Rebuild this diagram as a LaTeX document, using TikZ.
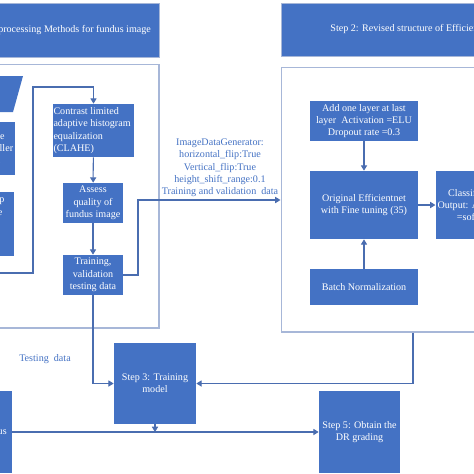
\documentclass[tikz,border=0pt]{standalone}
\usepackage{fontspec}
\setmainfont{Liberation Serif}
\usetikzlibrary{arrows.meta}
\definecolor{blueF}{HTML}{4472C4}
\definecolor{outlineC}{HTML}{A7B7D8}
\definecolor{lineC}{HTML}{4A6DB0}

\begin{document}
\begin{tikzpicture}[x=0.02cm,y=-0.02cm,
  font=\fontsize{5.75}{7}\selectfont,
  box/.style={fill=blueF,text=white,align=center,inner sep=1pt},
  frame/.style={draw=outlineC,line width=0.6pt},
  flow/.style={draw=lineC,line width=0.6pt,-{Triangle[length=3pt,width=3.5pt]}},
  plain/.style={draw=lineC,line width=0.6pt},
  lbl/.style={text=blueF,align=center,inner sep=0pt}]
\useasboundingbox (0,0) rectangle (474,474);
\clip (0,0) rectangle (474,474);
\fill[white] (0,0) rectangle (474,474);

% step 1 side
\node[box,draw=outlineC,minimum width=4.28cm,minimum height=1.08cm] (hdrL) at (52,30) {Step 1: Preprocessing Methods for fundus image};
\node[frame,minimum width=3.38cm,minimum height=5.28cm] (outL) at (74.5,196) {};
\fill[blueF] (-40,76) -- (23,76) -- (13,112) -- (-50,112) -- cycle;
\node[box,minimum width=1.5cm,minimum height=1.06cm] (boxA) at (-22.5,148.5) {Resize all the\\images to smaller\\dimensions};
\node[box,minimum width=1.48cm,minimum height=1.28cm] (boxB) at (-23,224) {Random crop\\of the image\\using\\center crop\\to size};
\node[box,text width=1.6cm,align=flush left,inner xsep=0.5pt,minimum height=1.06cm] (clahe) at (93.5,130.5) {Contrast limited\\adaptive histogram\\equalization\\(CLAHE)};
\node[box,minimum width=1.2cm,minimum height=0.8cm] (assess) at (93,203) {Assess\\quality of\\fundus image};
\node[box,minimum width=1.2cm,minimum height=0.8cm] (train) at (93,275) {Training,\\validation\\testing data};

\coordinate (src) at (-20,273);
\coordinate (bend) at (33,87);
\draw[flow] (src) -| (bend) -| (clahe.north);
\draw[flow] (clahe) -- (assess);
\draw[flow] (assess) -- (train);

% step 2 side
\node[box,draw=outlineC,minimum width=5.24cm,minimum height=1.06cm] (hdrR) at (412,29.5) {Step 2: Revised structure of Efficientnet};
\node[frame,minimum width=5.28cm,minimum height=5.3cm] (outR) at (413,199.5) {};
\node[box,minimum width=2.16cm,minimum height=0.8cm] (addl) at (364,121) {Add one layer at last\\layer~ Activation =ELU\\Dropout rate =0.3};
\node[box,minimum width=2.16cm,minimum height=1.36cm] (orig) at (364,205) {Original Efficientnet\\with Fine tuning (35)};
\node[box,minimum width=1.6cm,minimum height=1.36cm] (clf) at (476,205) {Classification\\Output: Activation\\=softmax};
\node[box,minimum width=2.16cm,minimum height=0.72cm] (bn) at (364,287) {Batch Normalization};
\draw[flow] (addl) -- (orig);
\draw[flow] (orig) -- (clf);
\draw[flow] (bn) -- (orig);

\coordinate (gen) at (138,200);
\node[lbl] (genlbl) at (220,168) {ImageDataGenerator:\\horizontal\_flip:True\\Vertical\_flip:True\\height\_shift\_range:0.1\\Training and validation~ data};
\draw[flow] (train.east) -| (gen) -- (gen -| outR.west);

% steps 3 to 5
\node[box,minimum width=1.64cm,minimum height=1.62cm] (step3) at (155,383.5) {Step 3: Training\\model};
\node[box,minimum width=1.44cm,minimum height=1.64cm] (boxC) at (-24,432) {Step 4: Fundus};
\node[box,minimum width=1.62cm,minimum height=1.64cm] (step5) at (359.5,432) {Step 5: Obtain the\\DR grading};
\node[lbl] (testlbl) at (45,359) {Testing~ data};

\draw[flow] (train.south) |- (step3.west);
\draw[flow] (outR.south) |- (step3.east);
\draw[flow] (step3.south) -- (step3.south |- boxC.east);
\draw[flow] (boxC.east) -- (step5.west);

\end{tikzpicture}
\end{document}
